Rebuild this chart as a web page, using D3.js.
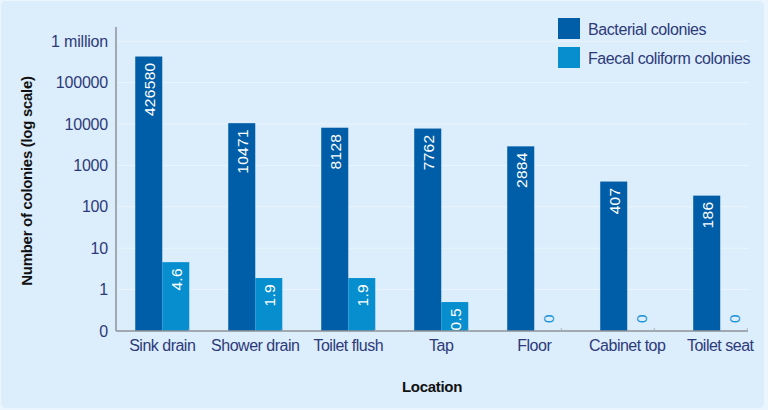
<!DOCTYPE html>
<html>
<head>
<meta charset="utf-8">
<script src="https://cdn.jsdelivr.net/npm/d3@7"></script>
<style>
  html, body { margin: 0; padding: 0; background: #eaf5fe; }
  svg { display: block; font-family: "Liberation Sans", Arial, Helvetica, sans-serif; }
</style>
</head>
<body>
<div id="chart"></div>
<script>
// Bathroom surface sampling - colonies per location (log scale)
const locations = ['Sink drain', 'Shower drain', 'Toilet flush', 'Tap', 'Floor', 'Cabinet top', 'Toilet seat'];
const bacterial = [426580, 10471, 8128, 7762, 2884, 407, 186];
const faecal = [4.6, 1.9, 1.9, 0.5, 0, 0, 0];
const seriesNames = ['Bacterial colonies', 'Faecal coliform colonies'];
const tickValues = [0.1, 1, 10, 100, 1000, 10000, 100000, 1000000];
const tickLabels = ['0', '1', '10', '100', '1000', '10000', '100000', '1 million'];

const width = 768;
const height = 410;
const colors = { bacterial: '#005da7', faecal: '#078ecf', bg: '#dcedfb', text: '#2d3a7a', axis: '#8c9298', grid: '#eaf5fe' };

const svg = d3.select('#chart')
  .append('svg')
  .attr('width', width)
  .attr('height', height);

// panel background
svg.append('rect')
  .attr('x', 1).attr('y', 1)
  .attr('width', width - 5).attr('height', height - 3)
  .attr('rx', 5)
  .attr('fill', colors.bg);

const plot = { left: 116, right: 748, top: 27, bottom: 331 };

// log scale, with "0" drawn one decade under 1
const y = d3.scaleLog()
  .domain([0.1, 1000000])
  .range([plot.bottom, 41.2]);

const x0 = d3.scaleBand()
  .domain(locations)
  .range([plot.left, 766.5])
  .paddingInner(0.419)
  .paddingOuter(0.207);

const x1 = d3.scaleBand()
  .domain(seriesNames)
  .range([0, x0.bandwidth()]);

// gridlines
svg.append('g')
  .selectAll('line')
  .data(tickValues.slice(1))
  .join('line')
  .attr('x1', plot.left + 2)
  .attr('x2', plot.right + 1)
  .attr('y1', d => y(d))
  .attr('y2', d => y(d))
  .attr('stroke', colors.grid)
  .attr('stroke-width', 1);

// y axis
const yAxis = svg.append('g')
  .attr('transform', `translate(${plot.left},0)`)
  .call(d3.axisLeft(y)
    .tickValues(tickValues)
    .tickFormat((d, i) => tickLabels[i])
    .tickSize(0)
    .tickPadding(8));
yAxis.select('.domain').remove();
yAxis.selectAll('text')
  .attr('fill', colors.text)
  .style('font-size', '16px')
  .style('letter-spacing', '-0.2px');

svg.append('line')
  .attr('x1', plot.left).attr('x2', plot.left)
  .attr('y1', plot.top).attr('y2', plot.bottom)
  .attr('stroke', colors.axis)
  .attr('stroke-width', 1.5);

// bars
const rows = locations.map((loc, i) => ({
  loc,
  values: [
    { key: seriesNames[0], v: bacterial[i], color: colors.bacterial },
    { key: seriesNames[1], v: faecal[i], color: colors.faecal }
  ]
}));

const groups = svg.append('g')
  .selectAll('g')
  .data(rows)
  .join('g')
  .attr('transform', d => `translate(${x0(d.loc)},0)`);

groups.selectAll('rect')
  .data(d => d.values.filter(v => v.v > 0))
  .join('rect')
  .attr('x', d => x1(d.key))
  .attr('y', d => y(d.v))
  .attr('width', x1.bandwidth())
  .attr('height', d => plot.bottom - y(d.v))
  .attr('fill', d => d.color);

// value labels, rotated
groups.selectAll('text')
  .data(d => d.values)
  .join('text')
  .attr('transform', d => {
    const cx = x1(d.key) + x1.bandwidth() / 2 + 1;
    const cy = d.v > 0 ? y(d.v) + 6 : plot.bottom - 8;
    return `translate(${cx},${cy}) rotate(-90)`;
  })
  .attr('text-anchor', d => d.v > 0 ? 'end' : 'start')
  .attr('dominant-baseline', 'central')
  .attr('fill', d => d.v > 0 ? '#ffffff' : '#1a96d8')
  .style('font-size', '15.5px')
  .style('letter-spacing', '0.3px')
  .text(d => String(d.v));

// x axis
svg.append('line')
  .attr('x1', plot.left).attr('x2', plot.right)
  .attr('y1', plot.bottom).attr('y2', plot.bottom)
  .attr('stroke', colors.axis)
  .attr('stroke-width', 1.5);

svg.append('g')
  .selectAll('line')
  .data(locations)
  .join('line')
  .attr('x1', d => x0(d) + x0.bandwidth())
  .attr('x2', d => x0(d) + x0.bandwidth())
  .attr('y1', plot.bottom - 3)
  .attr('y2', plot.bottom)
  .attr('stroke', '#a9b6c2')
  .attr('stroke-width', 1);

svg.append('g')
  .selectAll('text')
  .data(locations)
  .join('text')
  .attr('x', d => x0(d) + x0.bandwidth() / 2)
  .attr('y', 351)
  .attr('text-anchor', 'middle')
  .attr('fill', colors.text)
  .style('font-size', '16px')
  .style('letter-spacing', '-0.5px')
  .text(d => d);

// axis titles
svg.append('text')
  .attr('x', (plot.left + plot.right) / 2)
  .attr('y', 392)
  .attr('text-anchor', 'middle')
  .attr('fill', '#111')
  .style('font-size', '15px')
  .style('font-weight', 'bold')
  .style('letter-spacing', '-0.3px')
  .text('Location');

svg.append('text')
  .attr('transform', `translate(32,${(plot.top + plot.bottom) / 2 + 2}) rotate(-90)`)
  .attr('text-anchor', 'middle')
  .attr('fill', '#111')
  .style('font-size', '15px')
  .style('font-weight', 'bold')
  .style('letter-spacing', '-0.3px')
  .text('Number of colonies (log scale)');

// legend
const legend = svg.append('g')
  .selectAll('g')
  .data(seriesNames)
  .join('g')
  .attr('transform', (d, i) => `translate(558,${18 + i * 29})`);

legend.append('rect')
  .attr('width', 22)
  .attr('height', 21)
  .attr('fill', (d, i) => i === 0 ? colors.bacterial : colors.faecal);

legend.append('text')
  .attr('x', 30)
  .attr('y', 16.5)
  .attr('fill', colors.text)
  .style('font-size', '16px')
  .style('letter-spacing', '-0.4px')
  .text(d => d);
</script>
</body>
</html>
